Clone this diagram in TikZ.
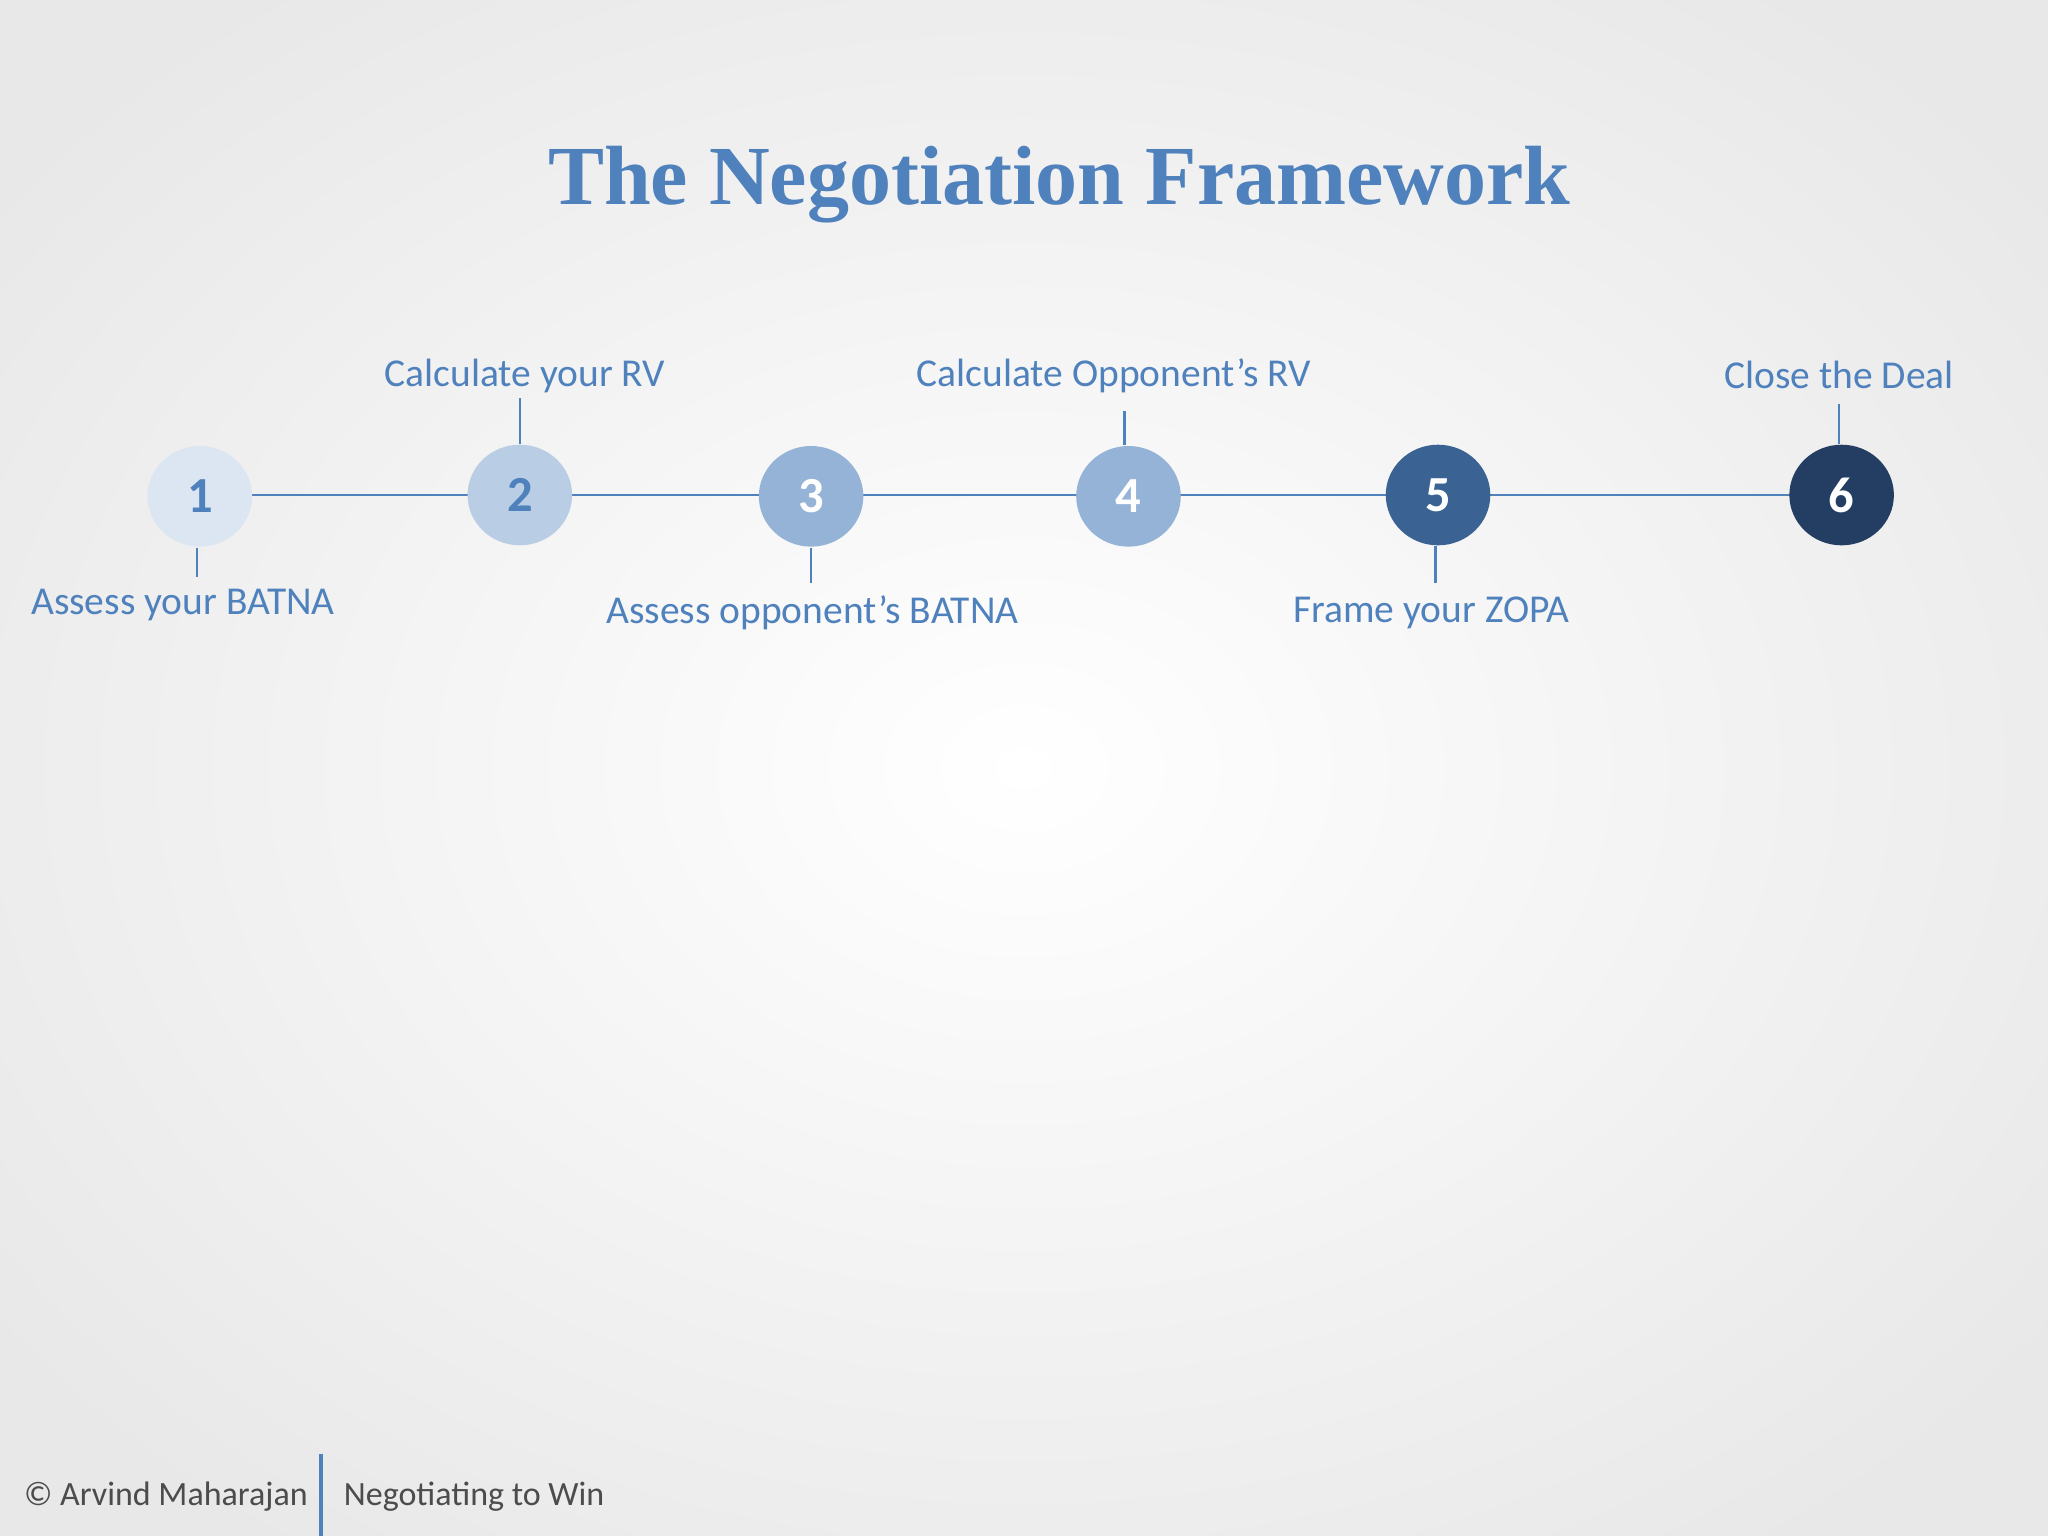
\documentclass[tikz,border=0pt]{standalone}
\usetikzlibrary{shapes.geometric}
\usepackage{fontspec}
\setmainfont{Carlito}
\newfontfamily\titlefont{Liberation Serif}
\definecolor{acc}{HTML}{4F81BD}
\definecolor{cA}{HTML}{DCE6F2}
\definecolor{cB}{HTML}{B9CDE5}
\definecolor{cC}{HTML}{95B3D7}
\definecolor{cE}{HTML}{3A6394}
\definecolor{cF}{HTML}{243D63}
\begin{document}
\begin{tikzpicture}[x=0.01cm,y=-0.01cm,
  stepc/.style={ellipse,minimum width=0.8cm,minimum height=0.77cm,inner sep=0pt,font=\fontsize{11}{13}\selectfont\bfseries},
  lab/.style={text=acc,font=\fontsize{8.6}{10}\selectfont,inner sep=0pt},
  tick/.style={draw=acc,line width=0.5pt}]
\useasboundingbox (0,0) rectangle (1568,1176);
\shade[inner color=white,outer color=black!9] (-200,-150) rectangle (1768,1326);
\node[text=acc,font=\titlefont\fontsize{18.3}{22}\selectfont\bfseries] (title) at (811,141) {The Negotiation Framework};
\draw[tick] (153,379) -- (1410,379);
\node[stepc,fill=cA,text=acc] (n1) at (153,380) {1};
\node[stepc,fill=cB,text=acc] (n2) at (398,379) {2};
\node[stepc,fill=cC,text=white] (n3) at (621,380) {3};
\node[stepc,fill=cC,text=white] (n4) at (864,380) {4};
\node[stepc,fill=cE,text=white] (n5) at (1101,379) {5};
\node[stepc,fill=cF,text=white] (n6) at (1410,379) {6};
\node[lab] (l1) at (140,463) {Assess your BATNA};
\node[lab] (l2) at (402,288) {Calculate your RV};
\node[lab] (l3) at (622,469) {Assess opponent’s BATNA};
\node[lab] (l4) at (853,288) {Calculate Opponent’s RV};
\node[lab] (l5) at (1096,469) {Frame your ZOPA};
\node[lab] (l6) at (1408,287) {Close the Deal};
\coordinate (t1) at (151,442); \draw[tick] (n1.south -| t1) -- (t1);
\coordinate (t2) at (398,305); \draw[tick] (t2) -- (n2.north);
\coordinate (t3) at (621,446); \draw[tick] (n3.south) -- (t3);
\coordinate (t4) at (861,315); \draw[tick] (t4) -- (t4 |- n4.north);
\coordinate (t5) at (1099,446); \draw[tick] (t5 |- n5.south) -- (t5);
\coordinate (t6) at (1408,309); \draw[tick] (t6) -- (t6 |- n6.north);
\node[text=black!70,font=\fontsize{7.4}{9}\selectfont,inner sep=0pt] (f1) at (127,1146) {© Arvind Maharajan};
\node[text=black!70,font=\fontsize{7.4}{9}\selectfont,inner sep=0pt] (f2) at (363,1146) {Negotiating to Win};
\coordinate (b1) at (246,1113); \coordinate (b2) at (246,1176);
\draw[acc,line width=0.8pt] (b1) -- (b2);
\end{tikzpicture}
\end{document}
